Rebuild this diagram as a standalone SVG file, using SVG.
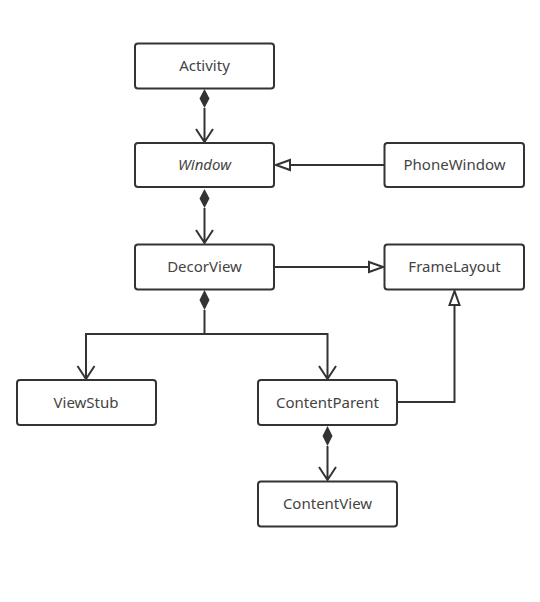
<svg xmlns="http://www.w3.org/2000/svg" width="540" height="602" viewBox="0 0 540 602">
<style>
.box{fill:#fff;stroke:#333;stroke-width:2}
.t{font-family:"Noto Sans","Open Sans",sans-serif;font-size:15px;fill:#444;text-anchor:middle;dominant-baseline:central}
.ln{fill:none;stroke:#333;stroke-width:2}
.dia{fill:#333}
.tri{fill:#fff;stroke:#333;stroke-width:2}
</style>
<rect width="540" height="602" fill="#fff"/>
<g id="connectors">
  <!-- Activity -> Window -->
  <path class="ln" d="M204.5 108 V142 M196 129 L204.5 142 L213 129"/>
  <path class="dia" d="M204.5 89 L209.5 98.5 L204.5 108 L199.5 98.5 Z"/>
  <!-- Window -> DecorView -->
  <path class="ln" d="M204.5 208 V243 M196 230 L204.5 243 L213 230"/>
  <path class="dia" d="M204.5 189 L209.5 198.5 L204.5 208 L199.5 198.5 Z"/>
  <!-- PhoneWindow -> Window -->
  <path class="ln" d="M384 165 H290"/>
  <path class="tri" d="M276 165 L290 160 L290 170 Z"/>
  <!-- DecorView -> FrameLayout -->
  <path class="ln" d="M274 267 H369"/>
  <path class="tri" d="M383 267 L369 262 L369 272 Z"/>
  <!-- DecorView -> ViewStub / ContentParent -->
  <path class="ln" d="M204.5 310 V334 M86 379 V334 H327.5 V379 M77.5 366 L86 379 L94.5 366 M319 366 L327.5 379 L336 366"/>
  <path class="dia" d="M204.5 290 L209.5 300 L204.5 310 L199.5 300 Z"/>
  <!-- ContentParent -> FrameLayout -->
  <path class="ln" d="M397 402 H454.5 V305"/>
  <path class="tri" d="M454.5 291 L449.5 305 L459.5 305 Z"/>
  <!-- ContentParent -> ContentView -->
  <path class="ln" d="M327.5 446 V480 M319 467 L327.5 480 L336 467"/>
  <path class="dia" d="M327.5 426 L332.5 436 L327.5 446 L322.5 436 Z"/>
</g>
<g id="activity"><rect class="box" x="135" y="43.5" width="139" height="45" rx="3"/><text class="t" x="204.5" y="65">Activity</text></g>
<g id="window"><rect class="box" x="135" y="143" width="139" height="44" rx="3"/><text class="t" x="204.5" y="164" font-style="italic">Window</text></g>
<g id="phonewindow"><rect class="box" x="384.5" y="143" width="139.5" height="44" rx="3"/><text class="t" x="454.5" y="164">PhoneWindow</text></g>
<g id="decorview"><rect class="box" x="135" y="244.5" width="139" height="45" rx="3"/><text class="t" x="204.5" y="266">DecorView</text></g>
<g id="framelayout"><rect class="box" x="384.5" y="244.5" width="139.5" height="45" rx="3"/><text class="t" x="454.5" y="266">FrameLayout</text></g>
<g id="viewstub"><rect class="box" x="17" y="380" width="139" height="45" rx="3"/><text class="t" x="86" y="402">ViewStub</text></g>
<g id="contentparent"><rect class="box" x="258" y="380" width="139" height="45" rx="3"/><text class="t" x="327.5" y="402">ContentParent</text></g>
<g id="contentview"><rect class="box" x="258" y="481.5" width="139" height="45" rx="3"/><text class="t" x="327.5" y="503">ContentView</text></g>
</svg>
